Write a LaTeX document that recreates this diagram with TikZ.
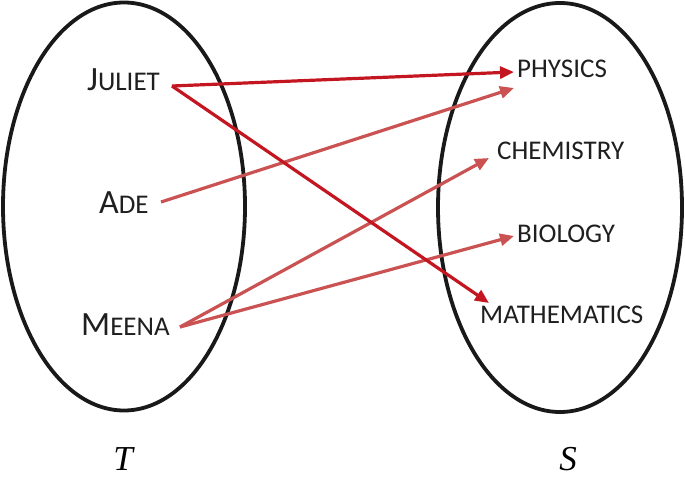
\documentclass[tikz,border=0pt]{standalone}
\usepackage{fontspec}
\setmainfont{Carlito}
\newfontfamily\tsfont{Liberation Serif}
\usetikzlibrary{arrows.meta}
\definecolor{darkred}{RGB}{196,22,32}
\definecolor{softred}{RGB}{202,82,82}
\newcommand{\bigL}[1]{{\fontsize{34}{34}\selectfont #1}}
\newcommand{\smL}[1]{{\fontsize{27}{27}\selectfont #1}}
\tikzset{
  setshape/.style={draw=black!90,line width=3.8pt},
  lbl/.style={inner sep=0pt,anchor=base west,text=black!88,font=\fontsize{27}{27}\selectfont},
  setname/.style={inner sep=0pt,anchor=base,font=\tsfont\itshape\fontsize{35}{35}\selectfont},
  maparrow/.style={line width=3.2pt,-{Triangle[length=14pt,width=12pt]}},
  strong/.style={maparrow,draw=darkred,fill=darkred},
  soft/.style={maparrow,draw=softred,fill=softred}
}
\begin{document}
\begin{tikzpicture}[x=1pt,y=-1pt]
\useasboundingbox (0,0) rectangle (685,481);
% sets
\draw[setshape] (124,206.5) ellipse [x radius=121, y radius=204];
\draw[setshape] (560,207.5) ellipse [x radius=122, y radius=204.5];
% elements of T
\node[lbl] (juliet) at (87,91) {\bigL{J}\smL{ULIET}};
\node[lbl] (ade) at (99,213) {\bigL{A}\smL{DE}};
\node[lbl] (meena) at (81,335) {\bigL{M}\smL{EENA}};
% elements of S
\node[lbl] (physics) at (517,78) {PHYSICS};
\node[lbl] (chemistry) at (497,160) {CHEMISTRY};
\node[lbl] (biology) at (517,242) {BIOLOGY};
\node[lbl] (maths) at (480,323) {MATHEMATICS};
% set names
\node[setname] (T) at (123,470) {T};
\node[setname] (S) at (568,470) {S};
% arrow ends
\coordinate (jS) at (172,86);
\coordinate (aS) at (161,202);
\coordinate (mS) at (180,327);
\coordinate (pE1) at (514,72);
\coordinate (pE2) at (514,88);
\coordinate (cE) at (489,158);
\coordinate (bE) at (514,236);
\coordinate (mE) at (489,303);
% mappings
\draw[soft] (aS) -- (pE2);
\draw[soft] (mS) -- (cE);
\draw[soft] (mS) -- (bE);
\draw[strong] (jS) -- (pE1);
\draw[strong] (jS) -- (mE);
\end{tikzpicture}
\end{document}
